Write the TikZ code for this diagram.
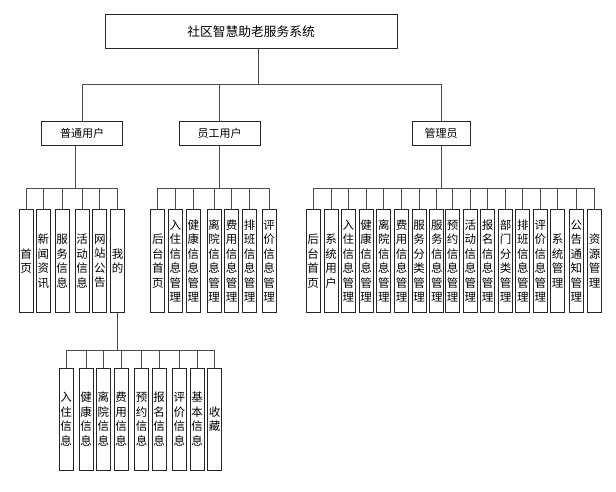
\documentclass[tikz,border=0pt]{standalone}
\usepackage{fontspec}
\newfontfamily\cjk{Noto Sans CJK SC}
\begin{document}
\begin{tikzpicture}[x=1pt,y=-1pt,
  box/.style={draw=black!85, line width=0.9pt, fill=white, inner sep=0pt},
  rootbox/.style={box, minimum width=292pt, minimum height=34pt,
    font=\cjk\fontsize{12.75}{15}\selectfont},
  rolebox/.style={box, minimum height=23.6pt,
    font=\cjk\fontsize{11}{13}\selectfont},
  leafbox/.style={box, minimum width=14pt, minimum height=103.4pt, align=center,
    font=\cjk\fontsize{11.5}{14.5}\selectfont},
  lowbox/.style={leafbox, minimum height=101.7pt},
  wire/.style={draw=black!70, line width=0.8pt}]
\useasboundingbox (0,0) rectangle (616,492);

% top level and the three roles
\node[rootbox] (sys) at (251,31.3) {社区智慧助老服务系统};
\node[rolebox, minimum width=80.6pt] (pu) at (82,133.5) {普通用户};
\node[rolebox, minimum width=81.3pt] (yg) at (219.7,133.5) {员工用户};
\node[rolebox, minimum width=58.3pt] (gl) at (441.2,133.5) {管理员};

% ordinary user functions
\foreach \x/\t [count=\i] in {
  26/{首\\页}, 43.5/{新\\闻\\资\\讯}, 62/{服\\务\\信\\息},
  82.2/{活\\动\\信\\息}, 99.8/{网\\站\\公\\告}, 117.5/{我\\的}}
  \node[leafbox] (a\i) at (\x,261) {\t};

% staff functions
\foreach \x/\t [count=\i] in {
  157.8/{后\\台\\首\\页}, 175.3/{入\\住\\信\\息\\管\\理},
  193.3/{健\\康\\信\\息\\管\\理}, 214/{离\\院\\信\\息\\管\\理},
  231.7/{费\\用\\信\\息\\管\\理}, 249.5/{排\\班\\信\\息\\管\\理},
  269/{评\\价\\信\\息\\管\\理}}
  \node[leafbox] (b\i) at (\x,261) {\t};

% administrator functions
\foreach \x/\t [count=\i] in {
  313/{后\\台\\首\\页}, 331/{系\\统\\用\\户},
  348.3/{入\\住\\信\\息\\管\\理}, 366/{健\\康\\信\\息\\管\\理},
  383.8/{离\\院\\信\\息\\管\\理}, 401.7/{费\\用\\信\\息\\管\\理},
  419/{服\\务\\分\\类\\管\\理}, 436.8/{服\\务\\信\\息\\管\\理},
  452.6/{预\\约\\信\\息\\管\\理}, 470.3/{活\\动\\信\\息\\管\\理},
  487.7/{报\\名\\信\\息\\管\\理}, 505.7/{部\\门\\分\\类\\管\\理},
  522.8/{排\\班\\信\\息\\管\\理}, 540.3/{评\\价\\信\\息\\管\\理},
  557.7/{系\\统\\管\\理}, 576.3/{公\\告\\通\\知\\管\\理},
  594.5/{资\\源\\管\\理}}
  \node[leafbox] (c\i) at (\x,261) {\t};

% "my" sub-functions
\foreach \x/\t [count=\i] in {
  66.2/{入\\住\\信\\息}, 86/{健\\康\\信\\息}, 103.3/{离\\院\\信\\息},
  121/{费\\用\\信\\息}, 141.7/{预\\约\\信\\息}, 159.2/{报\\名\\信\\息},
  179.3/{评\\价\\信\\息}, 197/{基\\本\\信\\息}, 214.7/{收\\藏}}
  \node[lowbox] (d\i) at (\x,419.2) {\t};

% bus heights
\coordinate (busT) at (0,84.3);
\coordinate (busM) at (0,188.3);
\coordinate (busD) at (0,350.7);
\coordinate (sysS) at ([xshift=7pt]sys.south);
\coordinate (puS) at ([xshift=-6.3pt]pu.south);

% root to roles
\draw[wire] (sysS) -- (sysS |- busT);
\draw[wire] (pu.north |- busT) -- (gl.north |- busT);
\foreach \n in {pu,yg,gl}
  \draw[wire] (\n.north) -- (\n.north |- busT);

% roles to functions
\draw[wire] (puS) -- (puS |- busM);
\draw[wire] (a1.north |- busM) -- (a6.north |- busM);
\foreach \i in {1,...,6} \draw[wire] (a\i.north) -- (a\i.north |- busM);

\draw[wire] (yg.south) -- (yg.south |- busM);
\draw[wire] (b1.north |- busM) -- (b7.north |- busM);
\foreach \i in {1,...,7} \draw[wire] (b\i.north) -- (b\i.north |- busM);

\draw[wire] (gl.south) -- (gl.south |- busM);
\draw[wire] (c1.north |- busM) -- (c17.north |- busM);
\foreach \i in {1,...,17} \draw[wire] (c\i.north) -- (c\i.north |- busM);

% "my" to its sub-functions
\draw[wire] (a6.south) -- (a6.south |- busD);
\draw[wire] (d1.north |- busD) -- (d9.north |- busD);
\foreach \i in {1,...,9} \draw[wire] (d\i.north) -- (d\i.north |- busD);
\end{tikzpicture}
\end{document}
